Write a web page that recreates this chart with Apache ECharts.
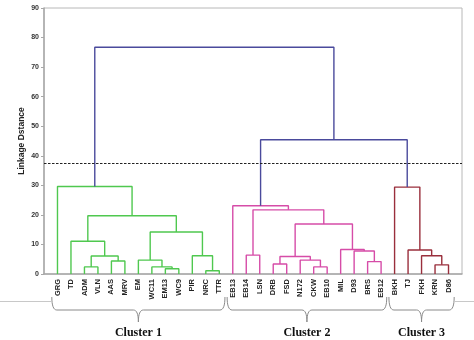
<!DOCTYPE html>
<html>
<head>
<meta charset="utf-8">
<script src="https://cdn.jsdelivr.net/npm/echarts@6/dist/echarts.min.js"></script>
<style>html,body{margin:0;padding:0;background:#fff}#c{width:474px;height:340px}</style>
</head>
<body>
<div id="c"></div>
<script>
// Leaf labels in dendrogram order
var leaves = ['GRG','TD','ADM','VLN','AAS','MRV','EM','WC11','EM13','WC9','PIR','NRC','TTR',
  'EB13','EB14','LSN','DRB','FSD','N172','CKW','EB10','MIL','D93','BRS','EB12',
  'BKH','TJ','FKH','KRN','D86'];
// Cluster names and their leaf counts (consecutive in leaf order)
var clusterNames = ['Cluster 1','Cluster 2','Cluster 3'];
var clusterSizes = [13, 12, 5];
// Linkage: [childA, childB, height]; ids < 30 are leaves, new nodes get ids 30, 31, ...
var mergeA = [2,4,30,1,8,7,6,11,10,36,33,0, 14,16,19,18,43,23,22,21,46,42,13, 28,27,26,25, 52,41];
var mergeB = [3,5,31,32,9,34,35,12,37,38,39,40, 15,17,20,44,45,24,47,48,49,50,51, 29,53,54,55, 56,57];
var mergeH = [2.4,4.4,6.1,11.1,1.8,2.4,4.7,1.1,6.2,14.2,19.7,29.6, 6.4,3.4,2.4,4.7,5.9,4.2,7.8,8.3,16.9,21.7,23.1, 3.1,6.2,8.1,29.4, 45.4,76.7];
// Cut-off distance (dashed line)
var cutoff = [37.5];
// Y-axis ticks and title
var yMin = 0, yMax = 90, yStep = 10;
var yTitle = 'Linkage Dstance';

var clusterColors = ['#4fc84f','#d64ca8','#9a2f3c'];
var topColor = '#4a4a9c';

var n = leaves.length;
var nodeX = [], nodeH = [], nodeCl = [];
var leafCluster = [];
(function(){ var k=0; for (var c=0;c<clusterSizes.length;c++) for (var j=0;j<clusterSizes[c];j++) leafCluster[k++]=c; })();
for (var i=0;i<n;i++){ nodeX[i]=i; nodeH[i]=0; nodeCl[i]=leafCluster[i]; }
var series = [];
for (var m=0;m<mergeA.length;m++){
  var a=mergeA[m], b=mergeB[m], h=mergeH[m], id=n+m;
  nodeX[id]=(nodeX[a]+nodeX[b])/2; nodeH[id]=h;
  nodeCl[id] = (nodeCl[a]===nodeCl[b]) ? nodeCl[a] : -1;
  var col = (h > cutoff[0] || nodeCl[id] < 0) ? topColor : clusterColors[nodeCl[id]];
  series.push({
    type:'line', silent:true, showSymbol:false, symbol:'none', animation:false,
    lineStyle:{color:col, width:1.4},
    data:[[nodeX[a],nodeH[a]],[nodeX[a],h],[nodeX[b],h],[nodeX[b],nodeH[b]]],
    z: 3
  });
}
series.push({
  type:'line', silent:true, data:[], animation:false,
  markLine:{symbol:'none', silent:true, animation:false, label:{show:false},
    lineStyle:{color:'#222', type:[2.5,1.5], width:1.2},
    data:[{yAxis:cutoff[0]}]}
});

var chart = echarts.init(document.getElementById('c'), null, {renderer:'canvas'});
chart.setOption({
  animation:false,
  grid:{left:44, right:12, top:8, bottom:66, show:true, borderColor:'#b8b8b8', borderWidth:1},
  xAxis:{type:'value', min:-1, max:30, interval:1,
    axisLine:{show:true, onZero:false, lineStyle:{color:'#a8a8a8', width:1.5}},
    axisTick:{show:false}, splitLine:{show:false},
    axisLabel:{rotate:90, margin:5, fontSize:7.5, fontWeight:'bold', color:'#222', fontFamily:'Liberation Sans',
      showMinLabel:true, showMaxLabel:true,
      formatter:function(v){ var k=Math.round(v); return (k>=0&&k<n)?leaves[k]:''; }}
  },
  yAxis:{type:'value', min:yMin, max:yMax, interval:yStep,
    axisLine:{show:true, onZero:false, lineStyle:{color:'#a8a8a8', width:1.5}},
    axisTick:{show:true, length:3, lineStyle:{color:'#a8a8a8'}},
    splitLine:{show:false},
    axisLabel:{fontSize:7, fontWeight:'bold', color:'#333', margin:5, fontFamily:'Liberation Sans'}
  },
  series:series
});

// Braces under the leaf labels
function quad(p0, p1, p2, out){
  for (var t=1;t<=8;t++){ var s=t/8, u=1-s;
    out.push([u*u*p0[0]+2*u*s*p1[0]+s*s*p2[0], u*u*p0[1]+2*u*s*p1[1]+s*s*p2[1]]); }
}
var graphics = [];
var yMidPix = chart.convertToPixel({gridIndex:0},[0,(yMin+yMax)/2])[1];
graphics.push({type:'text', x:22, y:yMidPix, rotation:Math.PI/2,
  style:{text:yTitle, textAlign:'center', textVerticalAlign:'middle',
    font:'bold 8.5px "Liberation Sans"', fill:'#222'}});
var yTop = 297, yMid = 310, yTip = 322, r = 5;
var start = 0, leftEdge = null, rightEdge = null;
for (var c=0;c<clusterSizes.length;c++){
  var first = start, last = start + clusterSizes[c] - 1;
  start += clusterSizes[c];
  var x1 = chart.convertToPixel({gridIndex:0},[first-0.42,0])[0];
  var x2 = chart.convertToPixel({gridIndex:0},[last+0.42,0])[0];
  if (leftEdge===null) leftEdge = x1;
  rightEdge = x2;
  var xc = (x1+x2)/2;
  var pts = [[x1,yTop]];
  quad([x1,yTop],[x1,yMid],[x1+r,yMid],pts);
  pts.push([xc-r,yMid]);
  quad([xc-r,yMid],[xc,yMid],[xc,yTip],pts);
  quad([xc,yTip],[xc,yMid],[xc+r,yMid],pts);
  pts.push([x2-r,yMid]);
  quad([x2-r,yMid],[x2,yMid],[x2,yTop],pts);
  graphics.push({type:'polyline', shape:{points:pts}, style:{fill:null, stroke:'#8a8a8a', lineWidth:1}});
  graphics.push({type:'text', x:xc, y:333, style:{text:clusterNames[c], textAlign:'center', textVerticalAlign:'middle',
    font:'bold 12px "Liberation Serif"', fill:'#111'}});
}
graphics.push({type:'line', shape:{x1:0,y1:301.5,x2:leftEdge,y2:301.5}, style:{stroke:'#c8c8c8', lineWidth:1}});
graphics.push({type:'line', shape:{x1:rightEdge,y1:301.5,x2:474,y2:301.5}, style:{stroke:'#c8c8c8', lineWidth:1}});
chart.setOption({graphic:graphics});
</script>
</body>
</html>
